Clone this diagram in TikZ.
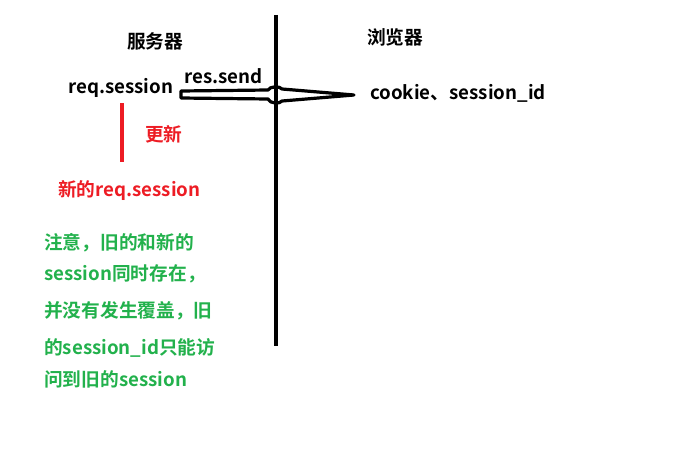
\documentclass[tikz,border=0pt]{standalone}
\usepackage{fontspec}
\setmainfont{Noto Sans CJK SC}[BoldFont={* Bold}]
\definecolor{rd}{RGB}{237,28,36}
\definecolor{gr}{RGB}{34,177,76}
\begin{document}
\begin{tikzpicture}[x=1pt,y=-1pt,
  lbl/.style={font=\bfseries\fontsize{18.7}{20}\selectfont,inner sep=0pt,anchor=west},
  thick3/.style={line width=4pt}]
\useasboundingbox (0,0) rectangle (676,452);
\node[lbl] (srv) at (127,41) {服务器};
\node[lbl] (brw) at (367,37) {浏览器};
\node[lbl] (req) at (68,88) {req.session};
\node[lbl] (send) at (184,76) {res.send};
\node[lbl] (ck) at (370,93) {cookie、session\_id};
\node[lbl,text=rd] (upd) at (145,134) {更新};
\node[lbl,text=rd] (nreq) at (58,191) {新的req.session};
\foreach \t/\y in {注意，旧的和新的/243, session同时存在，/274, 并没有发生覆盖，旧/311, 的session\_id只能访/348, 问到旧的session/379}
  \node[lbl,text=gr] at (44,\y) {\t};
\coordinate (vt) at (276,15); \coordinate (vb) at (276,346);
\draw[thick3] (vt) -- (vb);
\coordinate (rt) at (122,103); \coordinate (rb) at (122,162);
\draw[thick3,rd] (rt) -- (rb);
\draw[line width=3.2pt,line join=round]
  (181,91) -- (268,90) .. controls (270,86) and (280,86) .. (282,89)
  -- (354,95) -- (282,101) .. controls (280,104) and (270,104) .. (268,99)
  -- (181,98) -- cycle;
\end{tikzpicture}
\end{document}
